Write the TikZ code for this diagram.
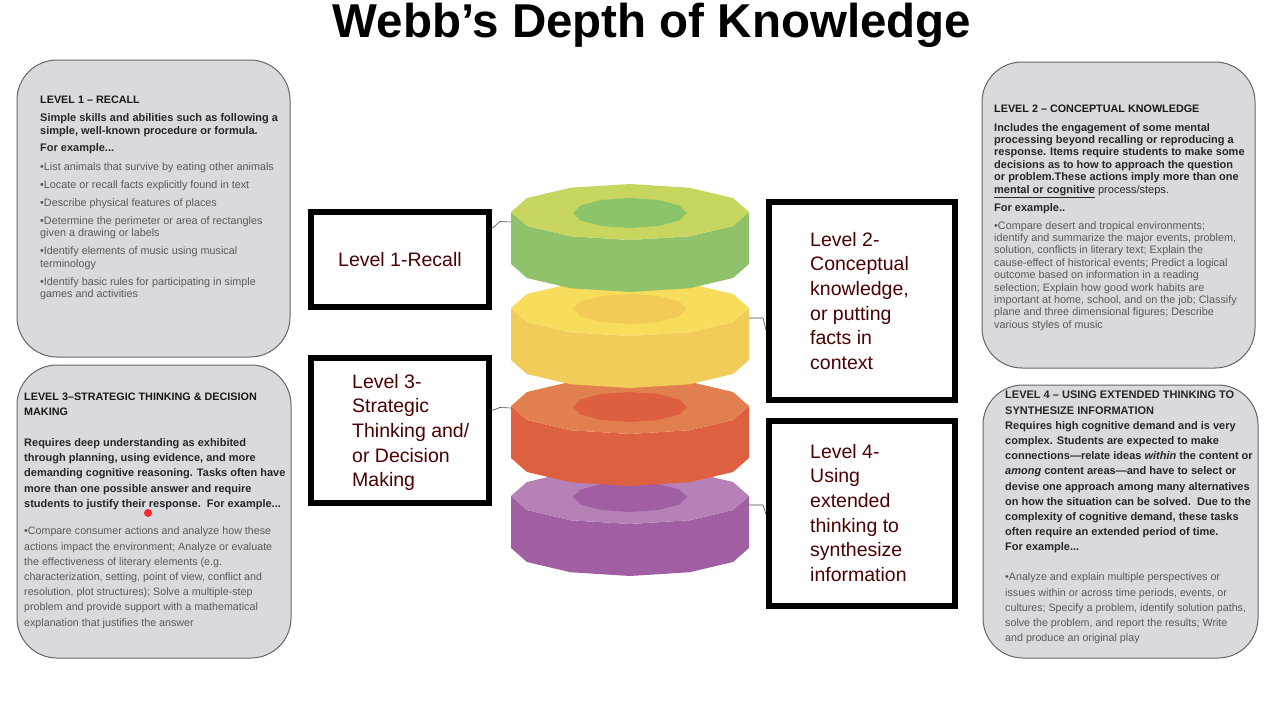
\documentclass[tikz,border=0pt]{standalone}
\usepackage{fontspec}
\setmainfont{Liberation Sans}
\begin{document}
\begin{tikzpicture}[x=1pt,y=-1pt,
  gbox/.style={draw=black!60,line width=1pt,fill=gbfill,rounded corners=40pt},
  lbox/.style={draw=black,line width=6pt,fill=white},
  ltext/.style={text=red!30!black,font=\fontsize{19.5}{24.6}\selectfont,align=left,anchor=north west,inner sep=0},
  conn/.style={draw=black!70,line width=0.6pt},
  ttl/.style={anchor=north west,inner sep=0,align=left,text=black!90,font=\fontsize{10.8}{13}\selectfont\bfseries},
  bld/.style={anchor=north west,inner sep=0,align=left,text=black!85,font=\fontsize{11}{12.4}\selectfont\bfseries},
  bul/.style={anchor=north west,inner sep=0,align=left,text=black!65,font=\fontsize{10.8}{12.4}\selectfont}]
\definecolor{gbfill}{HTML}{D9DADD}
\useasboundingbox (0,0) rectangle (1280,720);
\fill[white] (0,0) rectangle (1280,720);
\node[font=\fontsize{47.5}{50}\selectfont\bfseries] (title) at (652,25) {Webb’s Depth of Knowledge};

% grey boxes
\node[gbox,minimum width=273,minimum height=297] (t1) at (153.5,208.5) {};
\node[gbox,minimum width=274,minimum height=293] (t3) at (154,511.5) {};
\node[gbox,minimum width=273,minimum height=306] (t2) at (1118.5,215) {};
\node[gbox,minimum width=275,minimum height=273] (t4) at (1120.5,521.5) {};

% box 1 text
\node[ttl] (a1) at (40,96) {LEVEL 1 – RECALL};
\node[bld,font=\fontsize{11}{13}\selectfont\bfseries] (a2) at (40,113) {Simple skills and abilities such as following a\\simple, well-known procedure or formula.};
\node[bld] (a3) at (40,143) {For example...};
\node[bul,font=\fontsize{10.8}{12.5}\selectfont] (a4) at (40,162) {•List animals that survive by eating other animals\\[5.5pt]•Locate or recall facts explicitly found in text\\[5.5pt]•Describe physical features of places\\[5.5pt]•Determine the perimeter or area of rectangles\\given a drawing or labels\\[5.5pt]•Identify elements of music using musical\\terminology\\[5.5pt]•Identify basic rules for participating in simple\\games and activities};

% box 3 text
\node[ttl,font=\fontsize{10.8}{14.5}\selectfont\bfseries] (c1) at (24,393) {LEVEL 3--STRATEGIC THINKING \& DECISION\\MAKING};
\node[bld,font=\fontsize{11}{15.3}\selectfont\bfseries] (c2) at (24,438) {Requires deep understanding as exhibited\\through planning, using evidence, and more\\demanding cognitive reasoning. Tasks often have\\more than one possible answer and require\\students to justify their response.\ \ For example...};
\node[bul,font=\fontsize{10.7}{15.2}\selectfont] (c3) at (24,527) {•Compare consumer actions and analyze how these\\actions impact the environment; Analyze or evaluate\\the effectiveness of literary elements (e.g.\\characterization, setting, point of view, conflict and\\resolution, plot structures); Solve a multiple-step\\problem and provide support with a mathematical\\explanation that justifies the answer};
\fill[red!85!white] (148,513) circle (4);

% box 2 text
\node[ttl] (d1) at (994,105) {LEVEL 2 -- CONCEPTUAL KNOWLEDGE};
\node[bld] (d2) at (994,123) {Includes the engagement of some mental\\processing beyond recalling or reproducing a\\response. Items require students to make some\\decisions as to how to approach the question\\or problem.These actions imply more than one\\\underline{mental or cognitive} \mdseries process/steps.};
\node[bld] (d3) at (994,203) {For example..};
\node[bul] (d4) at (994,221) {•Compare desert and tropical environments;\\identify and summarize the major events, problem,\\solution, conflicts in literary text; Explain the\\cause-effect of historical events; Predict a logical\\outcome based on information in a reading\\selection; Explain how good work habits are\\important at home, school, and on the job; Classify\\plane and three dimensional figures; Describe\\various styles of music};

% box 4 text
\node[bld,font=\fontsize{11}{15.2}\selectfont\bfseries] (e1) at (1005,391) {LEVEL 4 – USING EXTENDED THINKING TO\\SYNTHESIZE INFORMATION\\Requires high cognitive demand and is very\\complex. Students are expected to make\\connections—relate ideas \textit{within} the content or\\\textit{among} content areas—and have to select or\\devise one approach among many alternatives\\on how the situation can be solved.\ \ Due to the\\complexity of cognitive demand, these tasks\\often require an extended period of time.\\For example...};
\node[bul,font=\fontsize{10.7}{15.2}\selectfont] (e2) at (1005,573) {•Analyze and explain multiple perspectives or\\issues within or across time periods, events, or\\cultures; Specify a problem, identify solution paths,\\solve the problem, and report the results; Write\\and produce an original play};

% discs
\newcommand{\mydisc}[4]{%
  \fill[#3] plot[domain=0:180,samples=7] ({630+119*cos(\x)},{#1+28*sin(\x)}) -- plot[domain=180:0,samples=7] ({630+119*cos(\x)},{#1+52+28*sin(\x)}) -- cycle;
  \fill[#2] plot[domain=0:360,samples=13] ({630+119*cos(\x)},{#1+28*sin(\x)}) -- cycle;
  \fill[#4] plot[domain=0:360,samples=13] ({630+57*cos(\x)},{#1+1+15*sin(\x)}) -- cycle;}
\definecolor{gt}{HTML}{C8D65F}\definecolor{gs}{HTML}{8FC26A}\definecolor{gh}{HTML}{8CC46A}
\definecolor{yt}{HTML}{F8DC5C}\definecolor{ys}{HTML}{F1CC58}\definecolor{yh}{HTML}{F1CB55}
\definecolor{ot}{HTML}{E27F4E}\definecolor{os}{HTML}{DD6040}\definecolor{oh}{HTML}{DE5E40}
\definecolor{pt}{HTML}{B581B6}\definecolor{ps}{HTML}{A15FA3}\definecolor{ph}{HTML}{A05FA3}
\mydisc{496}{pt}{ps}{ph}
\mydisc{406}{ot}{os}{oh}
\mydisc{308}{yt}{ys}{yh}
\mydisc{212}{gt}{gs}{gh}
\coordinate (gL) at (511,222);
\coordinate (yR) at (749,318);
\coordinate (oL) at (511,408);
\coordinate (pR) at (749,505);

% label boxes
\node[lbox,minimum width=178,minimum height=95] (b1) at (400,259.5) {};
\node[lbox,minimum width=178,minimum height=145] (b3) at (400,430.5) {};
\node[lbox,minimum width=186,minimum height=198] (b2) at (862,301) {};
\node[lbox,minimum width=186,minimum height=185] (b4) at (862,513.5) {};
\node[ltext,anchor=center] (l1) at (b1) {Level 1-Recall};
\node[ltext] (l3) at (352,374) {Level 3-\\Strategic\\Thinking and/\\or Decision\\Making};
\node[ltext] (l2) at (810,232) {Level 2-\\Conceptual\\knowledge,\\or putting\\facts in\\context};
\node[ltext] (l4) at (810,444) {Level 4-\\Using\\extended\\thinking to\\synthesize\\information};

% connectors
\draw[conn] ([yshift=31pt]b1.east) -- ++(8,-7) -- (gL);
\draw[conn] (yR) -- ++(14,0) -- ([yshift=-29pt]b2.west);
\draw[conn] ([yshift=20pt]b3.east) -- ++(8,-3) -- (oL);
\draw[conn] (pR) -- ++(14,0) -- ([yshift=-1pt]b4.west);
\end{tikzpicture}
\end{document}
